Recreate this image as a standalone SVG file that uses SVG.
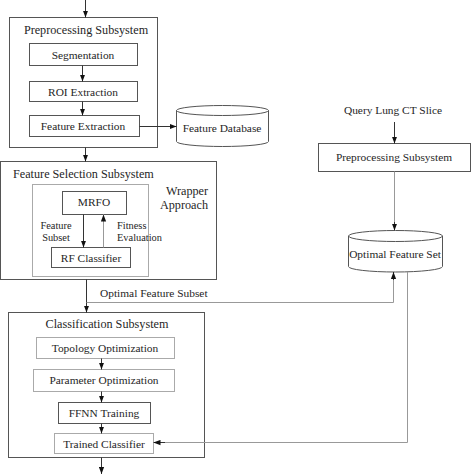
<svg xmlns="http://www.w3.org/2000/svg" width="474" height="474" viewBox="0 0 474 474">
<defs>
<style>
text{font-family:"Liberation Serif","Times New Roman",serif;fill:#262626}
.t{font-size:12.2px;text-anchor:middle}
.b{font-size:11.4px;text-anchor:middle}
.s{font-size:10.4px}
.outer{fill:#fff;stroke:#555;stroke-width:1}
.dark{fill:#fff;stroke:#555;stroke-width:1}
.light{fill:#fff;stroke:#aaa;stroke-width:1}
.ln{fill:none;stroke:#333;stroke-width:1}
.gl{fill:none;stroke:#999;stroke-width:1}
</style>
<marker id="ah" viewBox="0 0 8 6" refX="8" refY="3" markerWidth="7" markerHeight="6" markerUnits="userSpaceOnUse" orient="auto">
<path d="M0,0 L8,3 L0,6 z" fill="#111"/>
</marker>
</defs>
<rect width="474" height="474" fill="#fff"/>

<g id="preprocessing">
<rect class="outer" x="9.5" y="17.5" width="148" height="130"/>
<text class="t" x="86" y="34">Preprocessing Subsystem</text>
</g>
<g id="segmentation"><rect class="dark" x="29.5" y="43.5" width="108" height="22"/><text class="b" x="83" y="59">Segmentation</text></g>
<g id="roi"><rect class="dark" x="29.5" y="81.5" width="108" height="20"/><text class="b" x="83" y="95.5">ROI Extraction</text></g>
<g id="featext"><rect class="dark" x="29.5" y="115.5" width="110" height="21"/><text class="b" x="83" y="130">Feature Extraction</text></g>
<g id="featdb">
<path class="dark" d="M176.5,110.5 A46,5 0 0 1 268.5,110.5 A46,5 0 0 1 176.5,110.5 M176.5,110.5 V141.5 A46,5 0 0 0 268.5,141.5 V110.5"/>
<text class="b" x="222" y="132">Feature Database</text>
</g>

<g id="featsel">
<rect class="outer" x="0.5" y="161.5" width="216" height="118"/>
<text class="t" x="13" y="178" style="text-anchor:start">Feature Selection Subsystem</text>
</g>
<g id="wrapper">
<rect class="light" x="32.5" y="184.5" width="116" height="92"/>
<text class="t" x="187" y="195">Wrapper</text>
<text class="t" x="184" y="209">Approach</text>
</g>
<g id="mrfo"><rect class="dark" x="62.5" y="191.5" width="64" height="23"/><text class="b" x="94" y="206">MRFO</text></g>
<g id="rf"><rect class="dark" x="51.5" y="247.5" width="79" height="20"/><text class="b" x="91" y="262">RF Classifier</text></g>

<g id="classification">
<rect class="outer" x="8.5" y="312.5" width="196" height="145"/>
<text class="t" x="107" y="328">Classification Subsystem</text>
</g>
<g id="topology"><rect class="light" x="36.5" y="337.5" width="138" height="21"/><text class="b" x="105" y="352">Topology Optimization</text></g>
<g id="parameter"><rect class="light" x="33.5" y="369.5" width="141" height="22"/><text class="b" x="104" y="384">Parameter Optimization</text></g>
<g id="ffnn"><rect class="dark" x="58.5" y="402.5" width="92" height="21"/><text class="b" x="104" y="417">FFNN Training</text></g>
<g id="trained"><rect class="light" x="54.5" y="433.5" width="99" height="20"/><text class="b" x="104" y="448">Trained Classifier</text></g>

<g id="query"><text class="b" x="393" y="114">Query Lung CT Slice</text></g>
<g id="preproc2"><rect class="dark" x="318.5" y="143.5" width="152" height="28"/><text class="b" x="394" y="161">Preprocessing Subsystem</text></g>
<g id="optset">
<path class="dark" d="M348.5,236 A47,5.5 0 0 1 442.5,236 A47,5.5 0 0 1 348.5,236 M348.5,236 V266.5 A47,5.5 0 0 0 442.5,266.5 V236"/>
<text class="b" x="395" y="258">Optimal Feature Set</text>
</g>

<g id="connectors">
<line class="ln" x1="85.5" y1="0" x2="85.5" y2="17.5" marker-end="url(#ah)"/>
<line class="ln" x1="82.5" y1="65.5" x2="82.5" y2="81.5" marker-end="url(#ah)"/>
<line class="ln" x1="82.5" y1="101.5" x2="82.5" y2="115.5" marker-end="url(#ah)"/>
<line class="ln" x1="139.5" y1="126.5" x2="176.5" y2="126.5" marker-end="url(#ah)"/>
<line class="ln" x1="85.5" y1="147.5" x2="85.5" y2="161.5" marker-end="url(#ah)"/>
<line class="ln" x1="83.5" y1="214.5" x2="83.5" y2="247.5" marker-end="url(#ah)"/>
<line class="gl" x1="103.5" y1="247.5" x2="103.5" y2="214.5" marker-end="url(#ah)"/>
<text class="s" x="56" y="229" style="text-anchor:middle">Feature</text>
<text class="s" x="56" y="241" style="text-anchor:middle">Subset</text>
<text class="s" x="117" y="229">Fitness</text>
<text class="s" x="117" y="241">Evaluation</text>
<line class="ln" x1="86.5" y1="279.5" x2="86.5" y2="312.5" marker-end="url(#ah)"/>
<polyline class="gl" points="86.5,302.5 393.5,302.5 393.5,272"/>
<line class="ln" x1="393.5" y1="280" x2="393.5" y2="272" marker-end="url(#ah)"/>
<text class="b" x="100" y="297" style="text-anchor:start">Optimal Feature Subset</text>
<line class="ln" x1="101.5" y1="358.5" x2="101.5" y2="369.5" marker-end="url(#ah)"/>
<line class="ln" x1="101.5" y1="391.5" x2="101.5" y2="402.5" marker-end="url(#ah)"/>
<line class="ln" x1="101.5" y1="423.5" x2="101.5" y2="433.5" marker-end="url(#ah)"/>
<line class="ln" x1="101.5" y1="457.5" x2="101.5" y2="474" marker-end="url(#ah)"/>
<line class="ln" x1="394.5" y1="122" x2="394.5" y2="143.5" marker-end="url(#ah)"/>
<line class="gl" x1="394.5" y1="171.5" x2="394.5" y2="230.5"/>
<line class="ln" x1="394.5" y1="222" x2="394.5" y2="230.5" marker-end="url(#ah)"/>
<polyline class="gl" points="407.5,272 407.5,442.5 160,442.5"/>
<line class="ln" x1="165" y1="442.5" x2="153.5" y2="442.5" marker-end="url(#ah)"/>
</g>
</svg>
